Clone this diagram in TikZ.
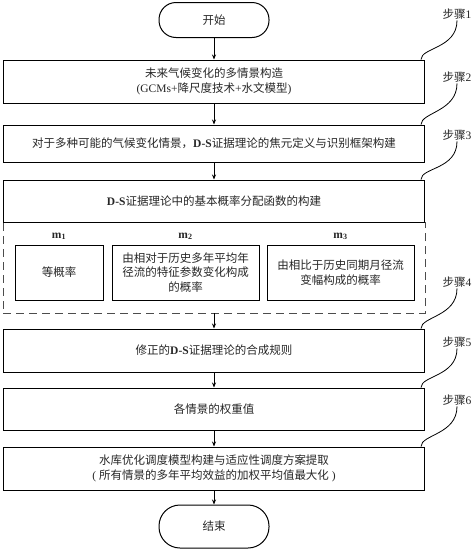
\documentclass[tikz,border=0pt]{standalone}
\usepackage{fontspec}
\setmainfont{Liberation Serif}
\newfontfamily\cjk{Noto Sans CJK SC}
\usetikzlibrary{arrows.meta,positioning}
\newcommand{\DSname}{\textbf{\rmfamily D-S}}
\newcommand{\mlabel}[1]{{\rmfamily\bfseries m\textsubscript{#1}}}

\begin{document}
\begin{tikzpicture}[x=1pt,y=-1pt,
  >={Stealth[length=5pt,width=4pt]},
  every node/.style={font={\cjk\fontsize{11.5}{14.5}\selectfont},align=center,text=black!85},
  stepbox/.style={draw,line width=1pt,minimum width=421pt,inner sep=0pt},
  subbox/.style={draw,line width=1pt,minimum height=55pt,inner sep=0pt},
  term/.style={draw,line width=1pt,minimum width=110pt,rounded corners=17pt},
  steptag/.style={inner sep=1pt},
  tagline/.style={line width=0.8pt}]
  \useasboundingbox (0,0) rectangle (474,552);

  % main flow
  \node[term,minimum height=35pt] (start) at (214,20) {开始};
  \node[stepbox,minimum height=43pt] (s1) at (214,81.5)
    {未来气候变化的多情景构造\\\textrm{(GCMs+}降尺度技术\textrm{+}水文模型\textrm{)}};
  \node[stepbox,minimum height=37pt] (s2) at (214,143.5)
    {对于多种可能的气候变化情景，\DSname{}证据理论的焦元定义与识别框架构建};

  % basic probability assignment group
  \node[draw,black!70,line width=0.8pt,dash pattern=on 8pt off 5pt,
        minimum width=422pt,minimum height=91pt] (grp) at (214,267.5) {};
  \node[stepbox,minimum height=42pt,fill=white] (s3) at (214,201)
    {\DSname{}证据理论中的基本概率分配函数的构建};
  \node[subbox,minimum width=88pt] (b1) at (59,272.5) {等概率};
  \node[subbox,minimum width=147pt] (b2) at (185.5,272.5)
    {由相对于历史多年平均年\\径流的特征参数变化构成\\的概率};
  \node[subbox,minimum width=147pt] (b3) at (340.5,272.5)
    {由相比于历史同期月径流\\变幅构成的概率};
  \node[above=1pt of b1] (m1) {\mlabel{1}};
  \node[above=1pt of b2] (m2) {\mlabel{2}};
  \node[above=1pt of b3] (m3) {\mlabel{3}};

  \node[stepbox,minimum height=43pt] (s4) at (214,350.5)
    {修正的\DSname{}证据理论的合成规则};
  \node[stepbox,minimum height=42pt] (s5) at (214,409) {各情景的权重值};
  \node[stepbox,minimum height=43pt] (s6) at (214,468.5)
    {水库优化调度模型构建与适应性调度方案提取\\\textrm{( }所有情景的多年平均效益的加权平均值最大化\textrm{ )}};
  \node[term,minimum height=43pt,rounded corners=21pt] (stop) at (214,526.5) {结束};

  \draw[->,line width=0.8pt] (start) -- (s1);
  \draw[->,line width=0.8pt] (s1) -- (s2);
  \draw[->,line width=0.8pt] (s2) -- (s3);
  \draw[->,line width=0.8pt] (grp) -- (s4);
  \draw[->,line width=0.8pt] (s4) -- (s5);
  \draw[->,line width=0.8pt] (s5) -- (s6);
  \draw[->,line width=0.8pt] (s6) -- (stop);

  % step tags
  \node[steptag] (t1) at (457,14) {步骤\textrm{1}};
  \node[steptag] (t2) at (457,77) {步骤\textrm{2}};
  \node[steptag] (t3) at (457,135) {步骤\textrm{3}};
  \node[steptag] (t4) at (457,282) {步骤\textrm{4}};
  \node[steptag] (t5) at (457,342) {步骤\textrm{5}};
  \node[steptag] (t6) at (457,400) {步骤\textrm{6}};
  \draw[tagline] (t1.south) .. controls +(0,28) and +(0,-12) .. ([xshift=-4pt]s1.north east);
  \draw[tagline] (t2.south) .. controls +(0,28) and +(0,-12) .. ([xshift=-4pt]s2.north east);
  \draw[tagline] (t3.south) .. controls +(0,28) and +(0,-12) .. ([xshift=-4pt]s3.north east);
  \draw[tagline] (t4.south) .. controls +(0,28) and +(0,-12) .. ([xshift=-4pt]s4.north east);
  \draw[tagline] (t5.south) .. controls +(0,28) and +(0,-12) .. ([xshift=-4pt]s5.north east);
  \draw[tagline] (t6.south) .. controls +(0,28) and +(0,-12) .. ([xshift=-4pt]s6.north east);
\end{tikzpicture}
\end{document}
